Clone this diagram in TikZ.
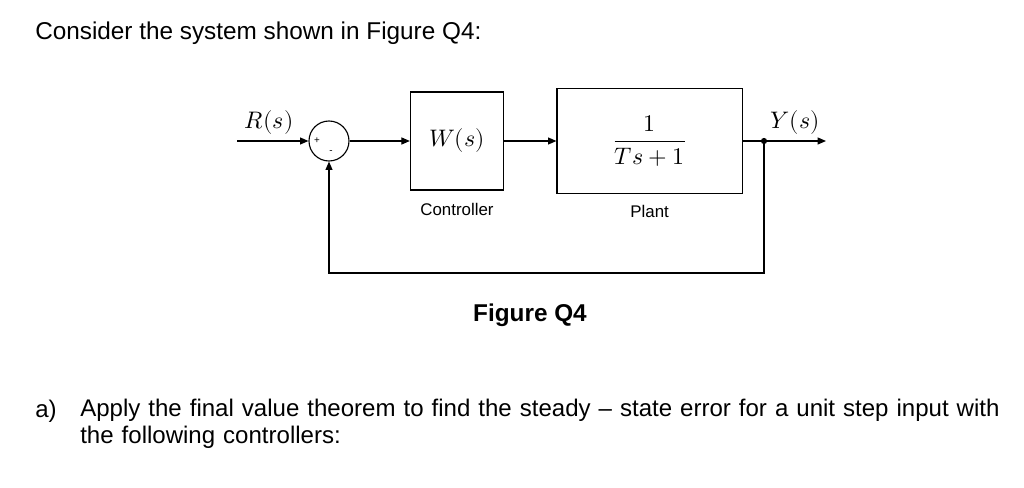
\documentclass[tikz,border=0pt]{standalone}
\usepackage{fontspec}
\setmainfont{Liberation Sans}
\usepackage{unicode-math}
\setmathfont{Latin Modern Math}
\usetikzlibrary{arrows.meta,positioning,calc}
\tikzset{>={Triangle[length=6pt,width=5pt]}}
\tikzset{blk/.style={draw,thick,inner sep=0pt,fill=white},
         lbl/.style={font=\fontsize{12}{14}\selectfont},
         mth/.style={font=\fontsize{17}{20}\selectfont},
         sig/.style={thick,->}}

\begin{document}
\begin{tikzpicture}
    \useasboundingbox (0,0) rectangle (25.6,12.175);
    \node[anchor=base west,inner sep=0pt,font=\fontsize{17.3}{19}\selectfont] (title) at (0.875,11.175) {Consider the system shown in Figure Q4:};

    \node[draw,thick,circle,minimum size=1cm,inner sep=0pt] (sum) at (8.225,8.65) {};
    \node[font=\scriptsize] (plus) at ($(sum)+(-0.3,0.02)$) {+};
    \node[font=\scriptsize] (minus) at ($(sum)+(0.05,-0.28)$) {-};
    \coordinate (in) at (5.925,8.65);
    \node[blk,mth,minimum width=2.33cm,minimum height=2.45cm] (ctrl) at (11.425,8.65) {$W(s)$};
    \node[blk,mth,minimum width=4.63cm,minimum height=2.63cm] (plant) at (16.24,8.65) {$\dfrac{1}{Ts+1}$};
    \node[lbl,below=0.2cm of ctrl] (ctrllbl) {Controller};
    \node[lbl,below=0.15cm of plant] (plantlbl) {Plant};
    \coordinate (split) at (19.1,8.65);
    \coordinate (out) at (20.65,8.65);
    \coordinate (fb) at (19.1,5.35);
    \fill (split) circle (2.2pt);

    \draw[sig] (in) -- (sum) node[mth,pos=0.45,above=1pt]{$R(s)$};
    \draw[sig] (sum) -- (ctrl);
    \draw[sig] (ctrl) -- (plant);
    \draw[sig] (plant) -- (out) node[mth,pos=0.63,above=1pt]{$Y(s)$};
    \draw[sig] (split) -- (fb) -| (sum);

    \node[font=\bfseries\fontsize{17.3}{19}\selectfont] (figlbl) at (13.25,4.3) {Figure Q4};
    \node[anchor=base west,inner sep=0pt,font=\fontsize{17.1}{19}\selectfont] (qa) at (0.875,1.75) {a)};
    \node[anchor=north west,inner sep=0pt,align=left,font=\fontsize{17.1}{19}\selectfont,text width=24cm] (qtext) at ($(qa.base west)+(1.125,0.45)$) {Apply the final value theorem to find the steady -- state error for a unit step input with\\the following controllers:};
\end{tikzpicture}
\end{document}
